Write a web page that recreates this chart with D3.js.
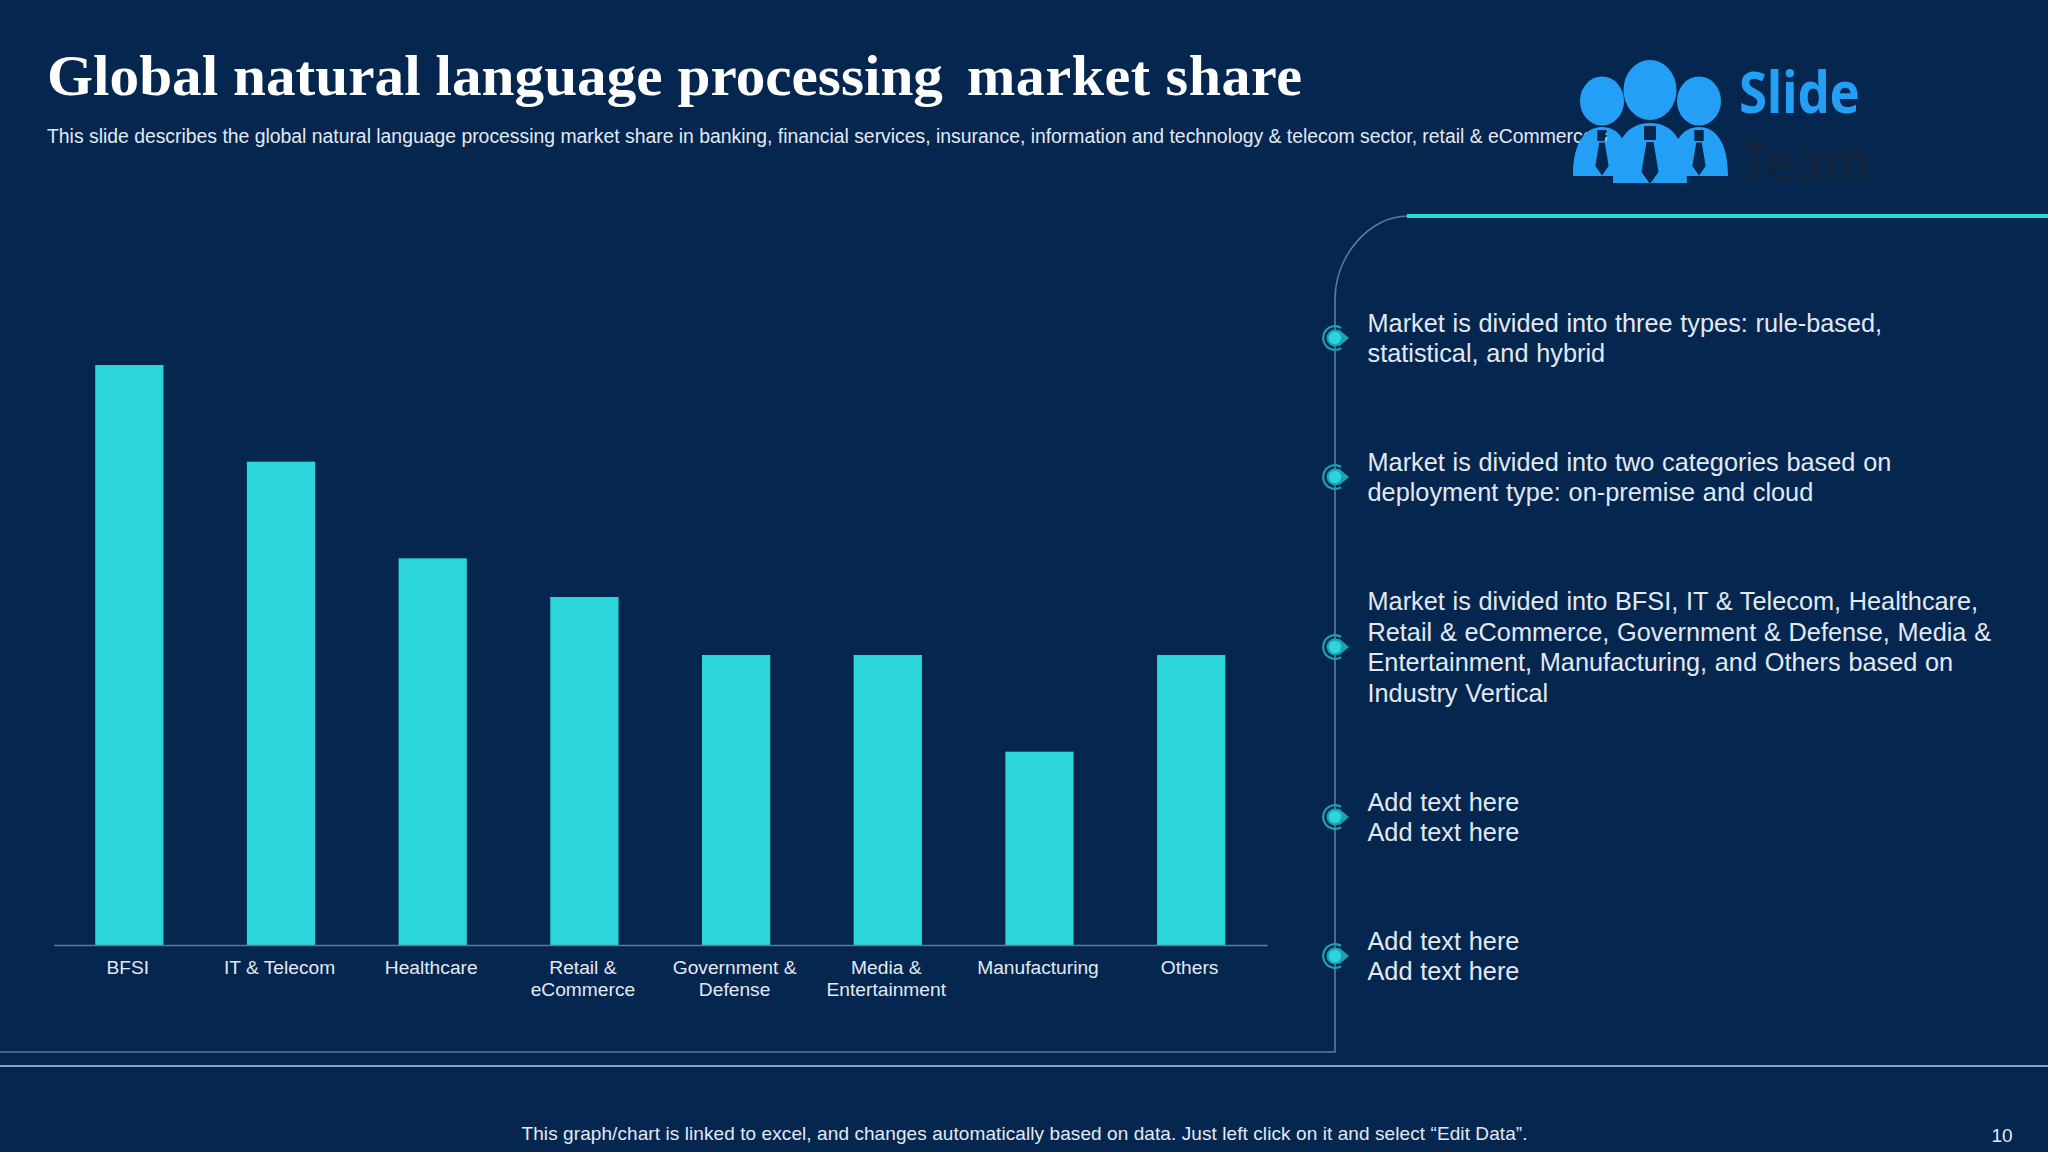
<!DOCTYPE html>
<html><head><meta charset="utf-8">
<script src="https://cdn.jsdelivr.net/npm/d3@7/dist/d3.min.js"></script>
<style>html,body{margin:0;padding:0;background:#05264f;overflow:hidden}svg{display:block}text{font-family:"Liberation Sans",Arial,sans-serif}</style>
</head><body><svg id="c" width="2048" height="1152"></svg>
<script>
const categories=["BFSI","IT & Telecom","Healthcare","Retail & eCommerce","Government & Defense","Media & Entertainment","Manufacturing","Others"];
const categoryLines=[["BFSI"],["IT & Telecom"],["Healthcare"],["Retail &","eCommerce"],["Government &","Defense"],["Media &","Entertainment"],["Manufacturing"],["Others"]];
const shares=[30,25,20,18,15,15,10,15];
const titleLeft="Global natural language processing";
const titleRight="market share";
const subtitleText="This slide describes the global natural language processing market share in banking, financial services, insurance, information and technology & telecom sector, retail & eCommerce, a";
const notes=[["Market is divided into three types: rule-based,","statistical, and hybrid"],["Market is divided into two categories based on","deployment type: on-premise and cloud"],["Market is divided into BFSI, IT & Telecom, Healthcare,","Retail & eCommerce, Government & Defense, Media &","Entertainment, Manufacturing, and Others based on","Industry Vertical"],["Add text here","Add text here"],["Add text here","Add text here"]];
const noteCentersY=[338,477,647,817,956];
const footerText="This graph/chart is linked to excel, and changes automatically based on data. Just left click on it and select “Edit Data”.";
const pageNumber="10";

const svg=d3.select("#c");
const teal="#2ad6da", bg="#05264f", txt="#e2e9f3", rule="#5f7a9e";
svg.append("rect").attr("width",2048).attr("height",1152).attr("fill",bg);
const serif="font-family:'Liberation Serif'";
svg.append("text").attr("x",47).attr("y",95).attr("style",serif).attr("font-weight","bold").attr("font-size",58).attr("fill","#fff").attr("textLength",896).attr("lengthAdjust","spacingAndGlyphs").text(titleLeft);
svg.append("text").attr("x",967).attr("y",95).attr("style",serif).attr("font-weight","bold").attr("font-size",58).attr("fill","#fff").attr("textLength",335).attr("lengthAdjust","spacing").text(titleRight);
svg.append("text").attr("x",47).attr("y",143).attr("font-size",19.4).attr("fill",txt).attr("textLength",1568).attr("lengthAdjust","spacing").text(subtitleText);

// chart
const x=d3.scaleBand().domain(categories).range([53.5,1267]).paddingInner(0.55).paddingOuter(0.275);
const y=d3.scaleLinear().domain([0,30]).range([945,365]);
svg.append("g").selectAll("rect").data(shares).join("rect").attr("x",(d,i)=>x(categories[i])).attr("width",x.bandwidth()).attr("y",d=>y(d)).attr("height",d=>y(0)-y(d)).attr("fill",teal);
const ax=svg.append("g").attr("transform","translate(0,945)").call(d3.axisBottom(x).tickSize(0).tickFormat(""));
ax.select(".domain").attr("stroke",rule).attr("stroke-width",1.5);
ax.selectAll(".tick").each(function(d,i){
  const t=d3.select(this).append("text").attr("text-anchor","middle").attr("fill",txt).attr("font-size",19.2);
  categoryLines[i].forEach((l,j)=>t.append("tspan").attr("x",-1.5).attr("y",28.5+j*22.5).text(l));
});

// frame
const frame=d3.path();
frame.moveTo(0,1052);frame.lineTo(1335,1052);frame.lineTo(1335,300);frame.bezierCurveTo(1335,255,1370,216,1408,216);
svg.append("path").attr("d",frame.toString()).attr("fill","none").attr("stroke",rule).attr("stroke-width",1.6);
svg.append("line").attr("x1",1407).attr("x2",2048).attr("y1",216).attr("y2",216).attr("stroke",teal).attr("stroke-width",4.2);
svg.append("line").attr("x1",0).attr("x2",2048).attr("y1",1066).attr("y2",1066).attr("stroke","#b9cdea").attr("stroke-width",1.6);

// notes
const lh=30.5;
const ringArc=d3.arc().innerRadius(10.8).outerRadius(13).startAngle(Math.PI*0.83).endAngle(Math.PI*2.17);
notes.forEach((ls,i)=>{
  const cy=noteCentersY[i];
  const g=svg.append("g").attr("transform",`translate(1335,${cy})`);
  g.append("path").attr("d",ringArc()).attr("fill","#1aa3b6");
  g.append("path").attr("d",d3.line()([[4,-8.5],[14,0],[4,8.5]])+"Z").attr("fill","#1aa3b6");
  g.append("circle").attr("r",8.5).attr("fill","#1aa3b6");
  g.append("circle").attr("r",6.2).attr("fill",teal);
  const t=svg.append("text").attr("fill",txt).attr("font-size",25.3).attr("word-spacing",0.7);
  ls.forEach((l,j)=>t.append("tspan").attr("x",1367.5).attr("y",cy+9-((ls.length-1)/2-j)*lh).text(l));
});

// footer
svg.append("text").attr("x",1024.5).attr("y",1140).attr("text-anchor","middle").attr("font-size",19).attr("fill",txt).attr("textLength",1006).attr("lengthAdjust","spacing").text(footerText);
svg.append("text").attr("x",2002).attr("y",1142).attr("text-anchor","middle").attr("font-size",19).attr("fill",txt).text(pageNumber);

// logo: the ties are holes in the bodies, so the subtitle shows through
const logo=svg.append("g");
const blue="#23a0f5";
function person(cx,hy,rx,ry,bw,by,bb){
  logo.append("ellipse").attr("cx",cx).attr("cy",hy).attr("rx",rx).attr("ry",ry).attr("fill",blue);
  const s=bw/37;
  const p=d3.path();p.moveTo(cx-bw,bb);p.bezierCurveTo(cx-bw,by+14,cx-bw*0.55,by,cx,by);p.bezierCurveTo(cx+bw*0.55,by,cx+bw,by+14,cx+bw,bb);p.closePath();
  const tie=`M${cx-6*s},${by+3} h${12*s} v${14*s} h${-12*s}z M${cx-3.5*s},${by+3+16*s} h${7*s} l${5*s},${30*s} l${-8.5*s},${12*s} l${-8.5*s},${-12*s}z`;
  logo.append("path").attr("d",p.toString()+tie).attr("fill",blue).attr("fill-rule","evenodd");
}
person(1602,101,22,24.5,29,127,176);
person(1699,101,22,24.5,29,127,176);
person(1650,90,26.5,30,37,123,183);
logo.append("text").attr("x",1739).attr("y",113).attr("style","font-family:'Noto Sans'").attr("font-weight","bold").attr("font-size",58).attr("fill",blue).attr("textLength",121).attr("lengthAdjust","spacingAndGlyphs").text("Slide");
logo.append("text").attr("x",1741).attr("y",182).attr("style","font-family:'Noto Sans'").attr("font-weight","bold").attr("font-size",58).attr("fill","#10233f").attr("textLength",129).attr("lengthAdjust","spacingAndGlyphs").text("Team");
</script></body></html>
